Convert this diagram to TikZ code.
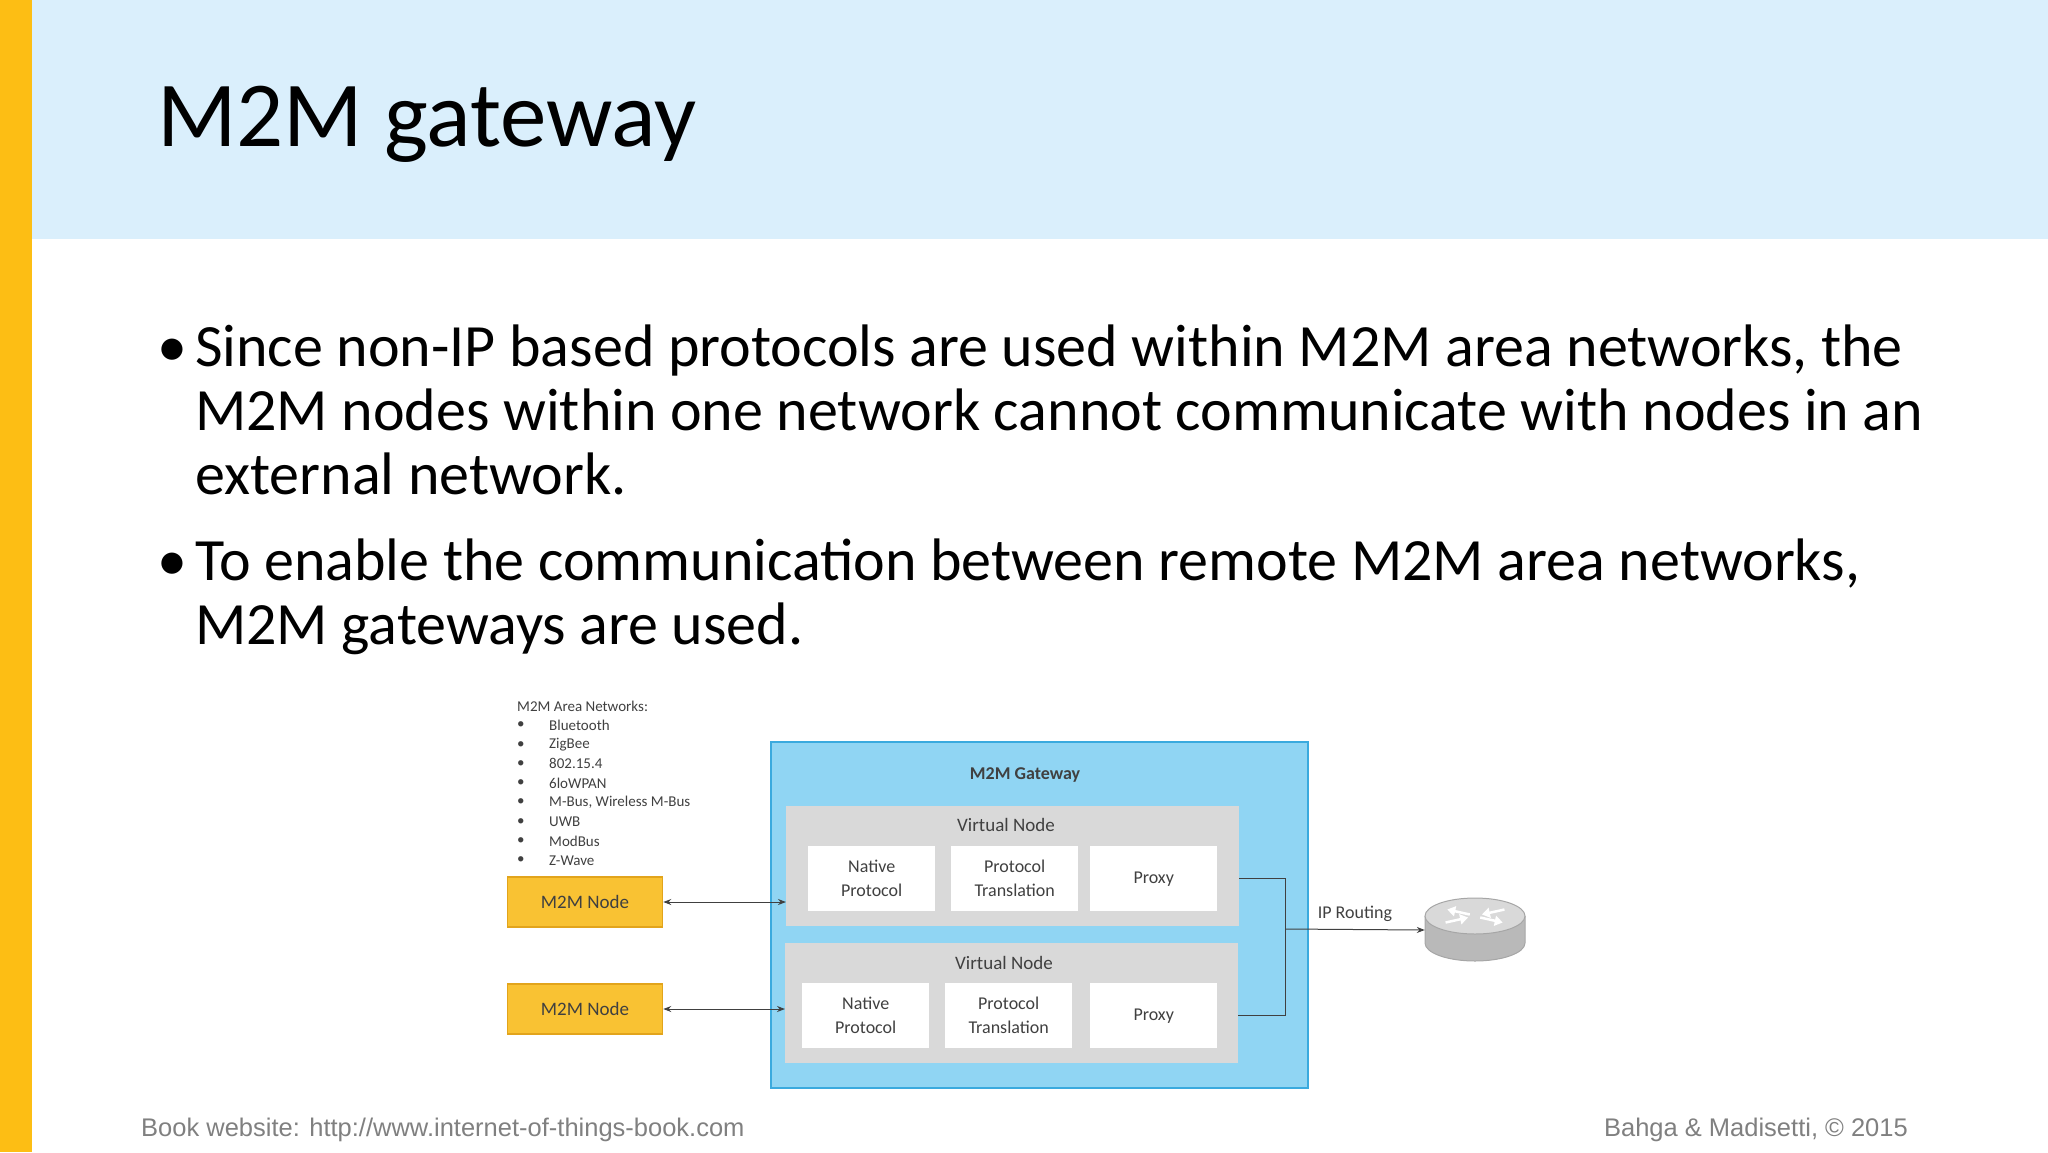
\documentclass[tikz,border=0pt]{standalone}
\usepackage{fontspec}
\setmainfont{Carlito}
\newfontfamily\footfont{Liberation Sans}
\usetikzlibrary{positioning,arrows.meta}
\definecolor{headblue}{HTML}{DAEFFC}
\definecolor{sidebar}{HTML}{FDBE14}
\definecolor{gwfill}{HTML}{90D5F3}
\definecolor{gwline}{HTML}{3AAADE}
\definecolor{vnfill}{HTML}{D9D9D9}
\definecolor{nodefill}{HTML}{F9C233}
\definecolor{nodeline}{HTML}{E2A41C}
\definecolor{txt}{HTML}{404040}
\tikzstyle{gateway} = [draw=gwline, line width=2pt, fill=gwfill, anchor=north west, inner sep=0pt]
\tikzstyle{virtual} = [fill=vnfill, anchor=north west, inner sep=0pt]
\tikzstyle{part} = [fill=white, anchor=north west, inner sep=0pt, minimum width=127pt, minimum height=65pt, align=center, text=txt, font=\fontsize{18}{24}\selectfont]
\tikzstyle{m2m} = [draw=nodeline, line width=1.5pt, fill=nodefill, minimum width=155pt, minimum height=50pt, text=txt, font=\fontsize{19}{22}\selectfont]
\tikzstyle{link} = [draw=txt, line width=1pt]
\tikzstyle{small} = [text=txt, font=\fontsize{15}{16}\selectfont, anchor=west, inner sep=0pt]
\tikzstyle{bigtext} = [anchor=base west, inner sep=0pt, font=\fontsize{60}{64}\selectfont, align=left]

\begin{document}
\begin{tikzpicture}[x=1pt, y=-1pt, >={Stealth[length=8pt,width=6pt]}]
    \useasboundingbox (0,0) rectangle (2048,1152);

    % slide background
    \fill[headblue] (32,0) rectangle (2048,239);
    \fill[sidebar] (0,0) rectangle (32,1152);
    \node[anchor=base west, inner sep=0pt, font=\fontsize{93}{100}\selectfont] (title) at (157,146) {M2M gateway};

    % bullets
    \node[bigtext] (dot1) at (157,366) {\textbullet};
    \node[bigtext] (item1) at (195,494)
        {Since non-IP based protocols are used within M2M area networks, the\\M2M nodes within one network cannot communicate with nodes in an\\external network.};
    \node[bigtext] (dot2) at (157,580) {\textbullet};
    \node[bigtext] (item2) at (195,644)
        {To enable the communication between remote M2M area networks,\\M2M gateways are used.};

    % list of area networks
    \node[small] (head) at (517,706) {M2M Area Networks:};
    \foreach \name [count=\i] in {Bluetooth,ZigBee,802.15.4,6loWPAN,{M-Bus, Wireless M-Bus},UWB,ModBus,Z-Wave} {
        \node[small] (dot\i) at (517,706+19.3*\i) {\textbullet};
        \node[small] (net\i) at (549,706+19.3*\i) {\name};
    }

    % the gateway
    \node[gateway, minimum width=537pt, minimum height=346pt] (gw) at (770,741) {};
    \node[font=\bfseries\fontsize{18}{20}\selectfont, text=txt] (gwlabel) at (1025,775) {M2M Gateway};

    \node[virtual, minimum width=453pt, minimum height=120pt] (vn1) at (786,806) {};
    \node[text=txt, font=\fontsize{19}{20}\selectfont] (vn1label) at (1006,825) {Virtual Node};
    \node[part] (native1) at (808,846) {Native\\Protocol};
    \node[part] (trans1) at (951,846) {Protocol\\Translation};
    \node[part] (proxy1) at (1090,846) {Proxy};

    \node[virtual, minimum width=453pt, minimum height=120pt] (vn2) at (785,943) {};
    \node[text=txt, font=\fontsize{19}{20}\selectfont] (vn2label) at (1004,963) {Virtual Node};
    \node[part] (native2) at (802,983) {Native\\Protocol};
    \node[part] (trans2) at (945,983) {Protocol\\Translation};
    \node[part] (proxy2) at (1090,983) {Proxy};

    % M2M nodes
    \node[m2m] (node1) at (585,902) {M2M Node};
    \node[m2m] (node2) at (585,1009) {M2M Node};

    \draw[link, <->] (node1.east) -- (node1.east -| vn1.west);
    \draw[link, <->] (node2.east) -- (node2.east -| vn2.west);

    % router
    \coordinate (join) at (1285,929);
    \node[minimum width=100pt, minimum height=66pt, inner sep=0pt] (router) at (1475,930) {};
    \fill[gray!55] (1425,916) -- (1425,943) arc[start angle=180, end angle=0, x radius=50, y radius=18] -- (1525,916) -- cycle;
    \draw[gray!70, line width=1pt] (1425,916) -- (1425,943) arc[start angle=180, end angle=0, x radius=50, y radius=18] -- (1525,916);
    \draw[gray!70, line width=1pt, fill=gray!30] (1475,916) ellipse[x radius=50, y radius=18];
    \foreach \a in {30,210} {
        \draw[white, line width=2.5pt, -{Triangle[length=8pt,width=10pt]}] (1475,916) ++(\a:6 and 3) -- ++(\a:26 and 10);
    }
    \foreach \a in {150,330} {
        \draw[white, line width=2.5pt, -{Triangle[length=8pt,width=10pt]}] (1475,916) ++(\a:34 and 13) -- ++(\a+180:26 and 10);
    }

    % IP routing connectors
    \draw[link] (vn1.east |- proxy1.east) -| (join);
    \draw[link] (vn2.east |- proxy2.east) -| (join);
    \draw[link, ->] (join) -- node[above=4pt, text=txt, font=\fontsize{18}{20}\selectfont] (iplabel) {IP Routing} (router.west);

    % footer
    \node[anchor=base west, inner sep=0pt, text=gray, font=\footfont\fontsize{25.5}{26}\selectfont] (site) at (141,1136) {Book website: http://www.internet-of-things-book.com};
    \node[anchor=base east, inner sep=0pt, text=gray, font=\footfont\fontsize{25.5}{26}\selectfont] (credit) at (1908,1136) {Bahga \& Madisetti, \textcopyright{} 2015};

\end{tikzpicture}
\end{document}
